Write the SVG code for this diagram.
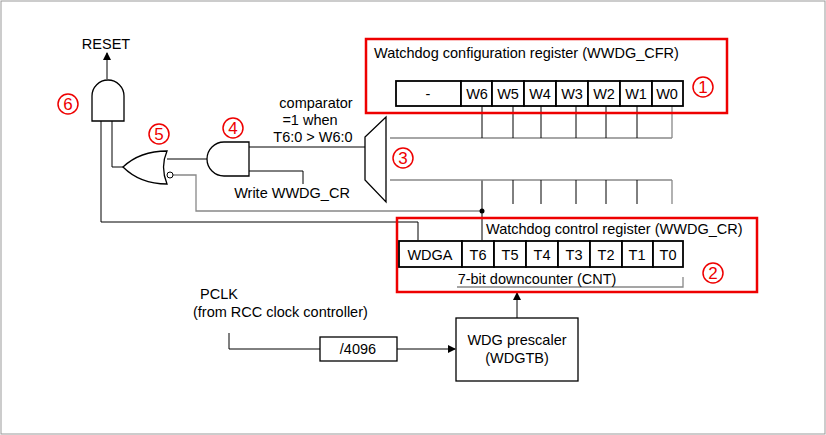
<svg xmlns="http://www.w3.org/2000/svg" width="826" height="435" viewBox="0 0 826 435">
<defs>
<style>
text{font-family:"Liberation Sans",Arial,sans-serif;font-size:14.5px;fill:#000}
.c{text-anchor:middle}
.ln{stroke:#000;stroke-width:1;fill:none}
.gr{stroke:#888;stroke-width:1.3;fill:none}
.cell{fill:#fff;stroke:#000;stroke-width:1.8}
.red{fill:none;stroke:#e00;stroke-width:2.5}
.num circle{fill:none;stroke:#e00;stroke-width:1.5}
.num text{fill:#e00;font-size:17px;text-anchor:middle}
.gate{fill:#fff;stroke:#000;stroke-width:1.3}
</style>
<marker id="ar" markerWidth="8" markerHeight="8" refX="7" refY="4" orient="auto" markerUnits="userSpaceOnUse"><path d="M0,0 L8,4 L0,8z" fill="#000"/></marker>
</defs>
<rect x="1" y="1" width="824" height="433" fill="#fff" stroke="#999"/>
<g id="connectors">
<path class="ln" d="M107,79 V53" marker-end="url(#ar)"/>
<path class="ln" d="M123,167 H112 V121"/>
<path class="ln" d="M101,121 V222 H418 V240"/>
<path class="ln" d="M167,159 H207"/>
<path class="ln" d="M249,147 H365"/>
<path class="ln" d="M249,171 H303 V184"/>
<path class="gr" d="M173,175 H196 V211 H482"/>
<circle cx="482" cy="211" r="2.5" fill="#000"/>
<path class="ln" d="M482,180 V240"/>
<path class="gr" d="M390,138 H672"/>
<path class="gr" d="M390,180 H672"/>
<path class="ln" d="M482,106 V138 M513,106 V138 M541,106 V138 M576,106 V138 M606,106 V138 M637,106 V138"/>
<path class="gr" d="M672,106 V138"/>
<path class="ln" d="M513,180 V204 M541,180 V204 M576,180 V204 M606,180 V204 M637,180 V204"/>
<path class="gr" d="M672,180 V204"/>
<path class="gr" d="M457,287 H683 V277"/>
<path class="ln" d="M229,333 V349 H320"/>
<path class="ln" d="M397,349 H455" marker-end="url(#ar)"/>
<path class="ln" d="M517,318 V293" marker-end="url(#ar)"/>
</g>
<g id="and6"><path class="gate" d="M92,121 V96 A16,16 0 0 1 124,96 V121 Z"/></g>
<g id="or5"><path class="gate" d="M167,151 Q160,167 167,184 Q140,184 123,167 Q140,151 167,151 Z"/><circle cx="170" cy="175" r="3" fill="#fff" stroke="#000"/></g>
<g id="and4"><path class="gate" d="M249,142 V176 H224 A17,17 0 0 1 224,142 Z"/></g>
<g id="mux"><path class="gate" d="M386,117 V202 L365,180 V137 Z"/></g>
<g id="labels">
<text x="106" y="49" class="c">RESET</text>
<text x="316" y="108" class="c">comparator</text>
<text x="310" y="125" class="c">=1 when</text>
<text x="313" y="142" class="c">T6:0 &gt; W6:0</text>
<text x="292" y="198" class="c">Write WWDG_CR</text>
</g>
<g id="cfr">
<rect class="red" x="366" y="39" width="361" height="74"/>
<text x="374" y="58">Watchdog configuration register (WWDG_CFR)</text>
<rect class="cell" x="396" y="81" width="65" height="25"/><text x="428" y="99" class="c">-</text>
<rect class="cell" x="461" y="81" width="31" height="25"/><text x="477" y="99" class="c">W6</text>
<rect class="cell" x="492" y="81" width="32" height="25"/><text x="508" y="99" class="c">W5</text>
<rect class="cell" x="524" y="81" width="32" height="25"/><text x="540" y="99" class="c">W4</text>
<rect class="cell" x="556" y="81" width="32" height="25"/><text x="572" y="99" class="c">W3</text>
<rect class="cell" x="588" y="81" width="32" height="25"/><text x="604" y="99" class="c">W2</text>
<rect class="cell" x="620" y="81" width="32" height="25"/><text x="636" y="99" class="c">W1</text>
<rect class="cell" x="652" y="81" width="31" height="25"/><text x="667" y="99" class="c">W0</text>
</g>
<g id="cr">
<rect class="red" x="397" y="218" width="360" height="74"/>
<text x="486" y="234">Watchdog control register (WWDG_CR)</text>
<rect class="cell" x="399" y="241" width="63" height="26"/><text x="430" y="260" class="c">WDGA</text>
<rect class="cell" x="462" y="241" width="32" height="26"/><text x="478" y="260" class="c">T6</text>
<rect class="cell" x="494" y="241" width="32" height="26"/><text x="510" y="260" class="c">T5</text>
<rect class="cell" x="526" y="241" width="32" height="26"/><text x="542" y="260" class="c">T4</text>
<rect class="cell" x="558" y="241" width="32" height="26"/><text x="574" y="260" class="c">T3</text>
<rect class="cell" x="590" y="241" width="32" height="26"/><text x="606" y="260" class="c">T2</text>
<rect class="cell" x="622" y="241" width="31" height="26"/><text x="637" y="260" class="c">T1</text>
<rect class="cell" x="653" y="241" width="30" height="26"/><text x="668" y="260" class="c">T0</text>
<text x="537" y="284" class="c">7-bit downcounter (CNT)</text>
</g>
<g id="pclk">
<text x="200" y="299">PCLK</text>
<text x="193" y="317">(from RCC clock controller)</text>
</g>
<g id="div"><rect x="320" y="337" width="77" height="24" fill="#fff" stroke="#000" stroke-width="1.3"/><text x="358" y="354" class="c">/4096</text></g>
<g id="prescaler"><rect x="456" y="318" width="122" height="63" fill="#fff" stroke="#000" stroke-width="1.3"/><text x="517" y="345" class="c">WDG prescaler</text><text x="517" y="363" class="c">(WDGTB)</text></g>
<g class="num">
<g id="n1"><circle cx="703" cy="87" r="10"/><text x="703" y="93">1</text></g>
<g id="n2"><circle cx="713" cy="273" r="10"/><text x="713" y="279">2</text></g>
<g id="n3"><circle cx="403" cy="158" r="10"/><text x="403" y="164">3</text></g>
<g id="n4"><circle cx="233" cy="128" r="10"/><text x="233" y="134">4</text></g>
<g id="n5"><circle cx="159" cy="134" r="10"/><text x="159" y="140">5</text></g>
<g id="n6"><circle cx="68" cy="104" r="10"/><text x="68" y="110">6</text></g>
</g>
</svg>
